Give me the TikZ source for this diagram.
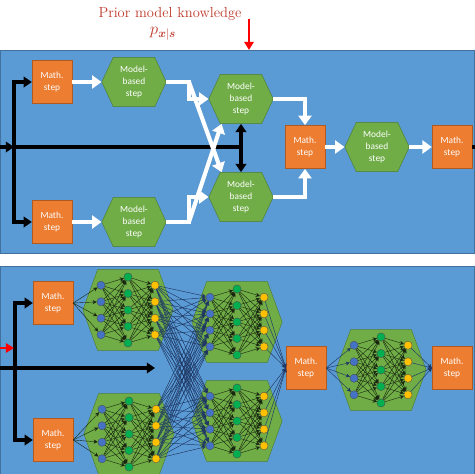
\documentclass[tikz,border=0pt]{standalone}
\usepackage{amsmath}
\usepackage{fontspec}
\setsansfont{Carlito}
\usepackage{tikz}
\usetikzlibrary{positioning}
\usetikzlibrary{shapes.symbols, arrows.meta}

\definecolor{panelblue}{HTML}{5B9BD5}
\definecolor{panelline}{HTML}{41719C}
\definecolor{steporange}{HTML}{ED7D31}
\definecolor{stepline}{HTML}{AE5A21}
\definecolor{hexgreen}{HTML}{70AD47}
\definecolor{hexline}{HTML}{507E32}
\definecolor{nnblue}{HTML}{4472C4}
\definecolor{nngreen}{HTML}{00B050}
\definecolor{nnyellow}{HTML}{FFC000}
\definecolor{crossblue}{HTML}{1F3864}
\definecolor{priorred}{HTML}{C0392B}

\tikzstyle{panel} = [fill=panelblue,draw=panelline,thin]
\tikzstyle{mathstep} = [draw=stepline,fill=steporange,thin,minimum width=34pt,minimum height=37pt,inner sep=1pt,text=white,font=\sffamily\fontsize{8}{10}\selectfont,align=center]
\tikzstyle{modelstep} = [signal,signal to=west and east,signal pointer angle=130,draw=hexline,fill=hexgreen,thin,minimum width=55pt,minimum height=42pt,inner sep=0pt,text=white,font=\sffamily\fontsize{8}{10}\selectfont,align=center]
\tikzstyle{nnhex} = [modelstep,signal pointer angle=140,minimum width=77pt,minimum height=69pt]
\tikzstyle{neuron} = [circle,draw=black!70,line width=0.3pt,minimum size=7pt,inner sep=0pt]
\tikzstyle{nnedge} = [black!70!hexline,line width=0.35pt,-{Stealth[length=3.5pt,width=3.5pt]}]
\tikzstyle{xedge} = [crossblue,line width=0.4pt,-{Stealth[length=3.5pt,width=3.5pt]}]
\tikzstyle{warrow} = [white,line width=3.5pt,-{Triangle[width=11pt,length=8pt]}]
\tikzstyle{barrow} = [black,line width=3pt,-{Triangle[width=9pt,length=7pt]}]
\tikzstyle{bdarrow} = [black,line width=3pt,{Triangle[width=9pt,length=7pt]}-{Triangle[width=9pt,length=7pt]}]
\tikzstyle{bline} = [black,line width=3pt]
\tikzstyle{rarrow} = [red,line width=2pt,-{Triangle[width=8pt,length=7pt]}]

% one small network inside a hexagon: name, x, y
\newcommand{\nnet}[3]{%
  \node[nnhex] (#1) at (#2,#3) {};
  \foreach \i in {1,...,4}{
    \node[neuron,fill=nnblue] (#1-b\i) at ({#2-27},{#3+(\i-2.5)*16.5}) {};
    \node[neuron,fill=nnyellow] (#1-y\i) at ({#2+27},{#3+(\i-2.5)*16.5}) {};
  }
  \foreach \j in {1,...,5}
    \node[neuron,fill=nngreen] (#1-g\j) at (#2,{#3+(\j-3)*16.5}) {};
  \foreach \i in {1,...,4}
    \foreach \j in {1,...,5}{
      \draw[nnedge] (#1-b\i) -- (#1-g\j);
      \draw[nnedge] (#1-g\j) -- (#1-y\i);
    }
}

\begin{document}
\begin{tikzpicture}[x=0.03cm,y=-0.03cm]
	\fill[white] (0,0) rectangle (474,474);
	\useasboundingbox (0,0) rectangle (474,474);
	\filldraw[panel] (0,50) rectangle (474,253);
	\filldraw[panel] (0,266) rectangle (474,474);

	%Prior knowledge
	\node[text=priorred,font=\fontsize{12.4}{14}\selectfont] (prior) at (170,14) {Prior model knowledge};
	\node[text=priorred,font=\Large] (pxs) at (163,34) {$p_{\boldsymbol{x}|\boldsymbol{s}}$};
	\coordinate (kn) at (249,19);
	\coordinate (kt) at (249,50);
	\draw[rarrow] (kn) -- (kt);

	%Nodes (model-based)
	\node[mathstep] (mathA) at (52,82) {Math.\\step};
	\node[mathstep] (mathB) at (52,222) {Math.\\step};
	\node[modelstep] (modelA) at (134,82) {Model-\\based\\step};
	\node[modelstep] (modelB) at (134,222) {Model-\\based\\step};
	\node[modelstep] (modelC) at (241,99) {Model-\\based\\step};
	\node[modelstep] (modelD) at (241,197) {Model-\\based\\step};
	\node[mathstep] (mathC) at (305,147) {Math.\\step};
	\node[modelstep] (modelE) at (377,147) {Model-\\based\\step};
	\node[mathstep] (mathD) at (452,147) {Math.\\step};

	%Lines (model-based)
	\coordinate (inA) at (0,147);
	\coordinate (jA) at (14,147);
	\coordinate (ka) at (189,82);
	\coordinate (kb) at (189,222);
	\coordinate (outA) at (476,147);
	\draw[barrow] (inA) -- (jA);
	\draw[barrow] (jA) |- (mathA.west);
	\draw[barrow] (jA) |- (mathB.west);
	\draw[bline] (jA) -- (modelC.south |- jA);
	\draw[bdarrow] (modelC.south) -- (modelD.north);
	\draw[warrow] (mathA.east) -- (modelA.west);
	\draw[warrow] (mathB.east) -- (modelB.west);
	\draw[warrow] (modelA.east) -- (ka) |- (modelC.west);
	\draw[warrow] (modelB.east) -- (kb) |- (modelD.west);
	\draw[warrow] (ka) -- (modelD.128);
	\draw[warrow] (kb) -- (modelC.232);
	\draw[warrow] (modelC.east) -| (mathC.north);
	\draw[warrow] (modelD.east) -| (mathC.south);
	\draw[warrow] (mathC.east) -- (modelE.west);
	\draw[warrow] (modelE.east) -- (mathD.west);
	\draw[bline] (mathD.east) -- (outA);

	%Nodes (networks)
	\node[mathstep] (nmathA) at (53,303) {Math.\\step};
	\node[mathstep] (nmathB) at (53,440) {Math.\\step};
	\nnet{netA}{128}{310}
	\nnet{netB}{129}{434}
	\nnet{netC}{237}{322}
	\nnet{netD}{237}{421}
	\node[mathstep] (nmathC) at (306,368) {Math.\\step};
	\nnet{netE}{381}{370}
	\node[mathstep] (nmathD) at (452,368) {Math.\\step};

	%Lines (networks)
	\coordinate (inB) at (0,368);
	\coordinate (jB) at (15,368);
	\coordinate (tipB) at (155,368);
	\coordinate (redB) at (0,348);
	\coordinate (redT) at (14,348);
	\draw[barrow] (inB) -- (tipB);
	\draw[barrow] (jB) |- (nmathA.west);
	\draw[barrow] (jB) |- (nmathB.west);
	\draw[rarrow] (redB) -- (redT);
	\foreach \i in {1,...,4}{
		\draw[nnedge] (nmathA.east) -- (netA-b\i);
		\draw[nnedge] (nmathB.east) -- (netB-b\i);
		\draw[xedge] (netC-y\i) -- (nmathC.west);
		\draw[xedge] (netD-y\i) -- (nmathC.west);
		\draw[xedge] (nmathC.east) -- (netE-b\i);
		\draw[xedge] (netE-y\i) -- (nmathD.west);
	}
	\foreach \s in {netA,netB}
		\foreach \t in {netC,netD}
			\foreach \i in {1,...,4}
				\foreach \k in {1,...,4}
					\draw[xedge] (\s-y\i) -- (\t-b\k);

\end{tikzpicture}
\end{document}
